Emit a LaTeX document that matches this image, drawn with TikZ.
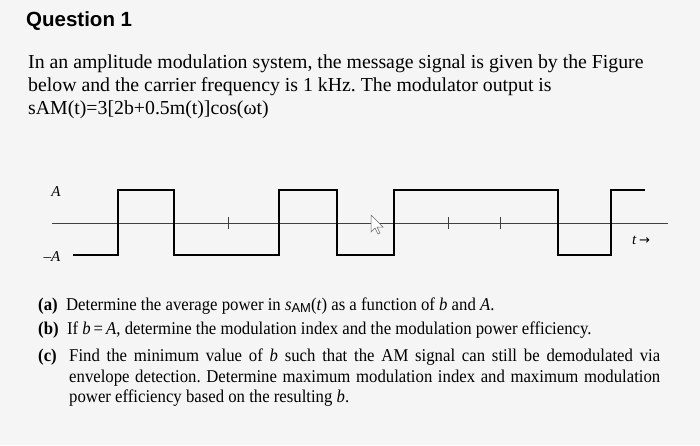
\documentclass[tikz,border=0pt]{standalone}
\usepackage{fontspec}
\setmainfont{Liberation Serif}
\newfontfamily\qsans{Liberation Sans}
\newfontfamily\narrowserif[FakeStretch=0.93]{Liberation Serif}
\newfontfamily\arrfont{DejaVu Sans}
\frenchspacing
\begin{document}
\begin{tikzpicture}[x=1pt,y=-1pt,
  para/.style={anchor=base west,inner sep=0pt,font=\fontsize{19.8}{24}\selectfont},
  item/.style={anchor=base west,inner sep=0pt,font=\narrowserif\fontsize{18}{21}\selectfont},
  wave/.style={line width=2.8pt,line join=miter},
  axis/.style={line width=0.8pt,black!75}]
\useasboundingbox[fill=black!4] (0,0) rectangle (700,445);
\node[anchor=base west,inner sep=0pt,font=\qsans\bfseries\fontsize{20.5}{24}\selectfont] (q) at (26,26) {Question 1};
\node[para] (l1) at (28,68) {In an amplitude modulation system, the message signal is given by the Figure};
\node[para] (l2) at (28,91) {below and the carrier frequency is 1 kHz. The modulator output is};
\node[para] (l3) at (28,114) {sAM(t)=3[2b+0.5m(t)]cos(ωt)};
% waveform
\draw[axis] (52,223) -- (668,223);
\foreach \x in {228,448,500} \draw[axis] (\x,217) -- (\x,229);
\draw[wave] (73,255) -- (118,255) -- (118,190) -- (174,190) -- (174,255) -- (279,255) -- (279,190) -- (337,190) -- (337,255) -- (394,255) -- (394,190) -- (558,190) -- (558,255) -- (611,255) -- (611,190) -- (645,190);
\node[anchor=base,inner sep=0pt,font=\fontsize{15}{17}\selectfont] (la) at (56,196) {\textit{A}};
\node[anchor=base,inner sep=0pt,font=\fontsize{15}{17}\selectfont] (lma) at (52,261) {\textit{–A}};
\node[anchor=base west,inner sep=0pt,font=\fontsize{15}{17}\selectfont] (lt) at (632,244) {\textit{t}\,{\arrfont\fontsize{13}{15}\selectfont →}};
\draw[black!60,fill=white,line width=0.5pt] (371,215) -- (371,232) -- (375,228) -- (378,234) -- (380,233) -- (377,227) -- (383,227) -- cycle;
% items
\node[item] (a) at (38,310) {\textbf{(a)}\ \ Determine the average power in \textit{s}{\fontsize{13}{15}\selectfont\raisebox{-2pt}{\qsans AM}}(\textit{t}) as a function of \textit{b} and \textit{A}.};
\node[item] (b) at (38,334) {\textbf{(b)}\ \ If \textit{b}\,=\,\textit{A}, determine the modulation index and the modulation power efficiency.};
\node[item] (c) at (38,361) {\textbf{(c)}};
\node[item] (c1) at (69,361) {\makebox[591pt][s]{Find the minimum value of \textit{b} such that the AM signal can still be demodulated via}};
\node[item] (c2) at (69,382) {\makebox[591pt][s]{envelope detection. Determine maximum modulation index and maximum modulation}};
\node[item] (c3) at (69,402) {power efficiency based on the resulting \textit{b}.};
\end{tikzpicture}
\end{document}
